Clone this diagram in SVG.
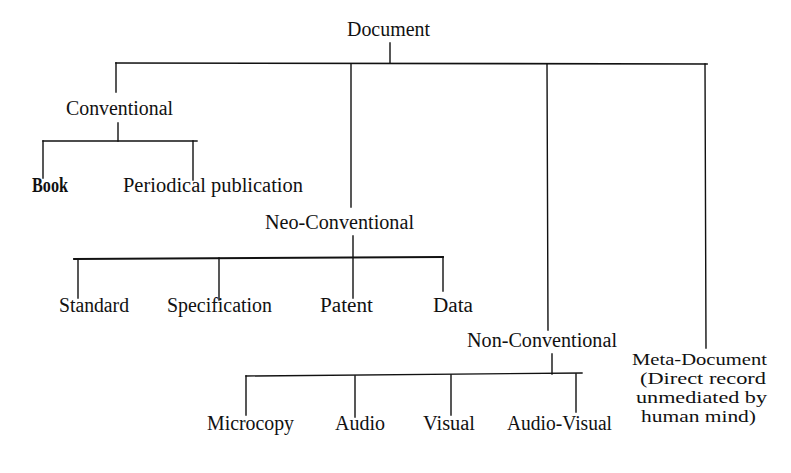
<svg xmlns="http://www.w3.org/2000/svg" width="791" height="473" viewBox="0 0 791 473">
<style>
  .lbl { font-family: "Liberation Serif", "DejaVu Serif", serif; font-size: 20px; fill: #111; }
  .bold { font-weight: bold; }
  .meta { font-size: 17px; }
  .ln { stroke: #111; stroke-width: 1.4; fill: none; stroke-linecap: square; }
</style>
<rect width="791" height="473" fill="#fff"/>
<g id="connectors">
  <line class="ln" x1="390" y1="43" x2="390" y2="63"/>
  <line class="ln" x1="116" y1="63" x2="707" y2="64" style="stroke-width:1.7"/>
  <line class="ln" x1="116" y1="63" x2="116" y2="92"/>
  <line class="ln" x1="351" y1="64" x2="351" y2="207"/>
  <line class="ln" x1="547" y1="64" x2="548" y2="330"/>
  <line class="ln" x1="705" y1="64" x2="706" y2="348"/>
  <line class="ln" x1="118" y1="123" x2="118" y2="141"/>
  <line class="ln" x1="43" y1="141" x2="197" y2="141"/>
  <line class="ln" x1="43" y1="141" x2="43" y2="178"/>
  <line class="ln" x1="193" y1="141" x2="193" y2="180"/>
  <line class="ln" x1="353" y1="236" x2="353" y2="298"/>
  <line class="ln" x1="74" y1="259" x2="443" y2="257" style="stroke-width:1.8"/>
  <line class="ln" x1="78" y1="259" x2="78" y2="298"/>
  <line class="ln" x1="219" y1="258" x2="219" y2="300"/>
  <line class="ln" x1="443" y1="257" x2="443" y2="291"/>
  <line class="ln" x1="552" y1="354" x2="552" y2="374"/>
  <line class="ln" x1="246" y1="376" x2="582" y2="373"/>
  <line class="ln" x1="246" y1="376" x2="246" y2="415"/>
  <line class="ln" x1="355" y1="376" x2="355" y2="417"/>
  <line class="ln" x1="451" y1="375" x2="451" y2="415"/>
  <line class="ln" x1="576" y1="374" x2="576" y2="412"/>
</g>
<g id="document"><text class="lbl" x="347" y="36" textLength="83" lengthAdjust="spacingAndGlyphs">Document</text></g>
<g id="conventional"><text class="lbl" x="66" y="115" textLength="107" lengthAdjust="spacingAndGlyphs">Conventional</text></g>
<g id="book"><text class="lbl bold" x="32" y="192" textLength="36" lengthAdjust="spacingAndGlyphs">Book</text></g>
<g id="periodical"><text class="lbl" x="123" y="192" textLength="180" lengthAdjust="spacingAndGlyphs">Periodical publication</text></g>
<g id="neo-conventional"><text class="lbl" x="265" y="229" textLength="149" lengthAdjust="spacingAndGlyphs">Neo-Conventional</text></g>
<g id="standard"><text class="lbl" x="59" y="312" textLength="70" lengthAdjust="spacingAndGlyphs">Standard</text></g>
<g id="specification"><text class="lbl" x="167" y="312" textLength="105" lengthAdjust="spacingAndGlyphs">Specification</text></g>
<g id="patent"><text class="lbl" x="320" y="312" textLength="53" lengthAdjust="spacingAndGlyphs">Patent</text></g>
<g id="data"><text class="lbl" x="433" y="312" textLength="40" lengthAdjust="spacingAndGlyphs">Data</text></g>
<g id="non-conventional"><text class="lbl" x="467" y="347" textLength="150" lengthAdjust="spacingAndGlyphs">Non-Conventional</text></g>
<g id="microcopy"><text class="lbl" x="207" y="430" textLength="87" lengthAdjust="spacingAndGlyphs">Microcopy</text></g>
<g id="audio"><text class="lbl" x="335" y="430" textLength="50" lengthAdjust="spacingAndGlyphs">Audio</text></g>
<g id="visual"><text class="lbl" x="423" y="430" textLength="52" lengthAdjust="spacingAndGlyphs">Visual</text></g>
<g id="audio-visual"><text class="lbl" x="507" y="430" textLength="105" lengthAdjust="spacingAndGlyphs">Audio-Visual</text></g>
<g id="meta-document">
  <text class="lbl meta" x="632" y="365" textLength="135" lengthAdjust="spacingAndGlyphs">Meta-Document</text>
  <text class="lbl meta" x="640" y="384" textLength="126" lengthAdjust="spacingAndGlyphs">(Direct record</text>
  <text class="lbl meta" x="636" y="403" textLength="131" lengthAdjust="spacingAndGlyphs">unmediated by</text>
  <text class="lbl meta" x="641" y="422" textLength="115" lengthAdjust="spacingAndGlyphs">human mind)</text>
</g>
</svg>
